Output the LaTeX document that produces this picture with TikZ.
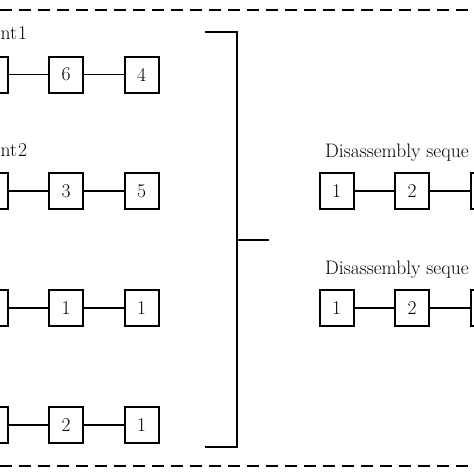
\documentclass[tikz,border=0pt]{standalone}
\usetikzlibrary{positioning}
\def\pagebox{(0,0) rectangle (474,474)}
\tikzset{seqbox/.style={draw, line width=2pt, minimum width=34pt, minimum height=36pt, inner sep=0pt, font=\fontsize{19.5}{22}\selectfont},
	link/.style={line width=1.8pt},
	seqlabel/.style={inner sep=0pt, font=\fontsize{19.5}{22}\selectfont},
	frame/.style={line width=2pt, dash pattern=on 12pt off 7pt},
	brace/.style={line width=2pt}}

\begin{document}
\begin{tikzpicture}[x=1pt, y=-1pt]
		\useasboundingbox \pagebox;
		\clip \pagebox;
		\draw[frame] (0,10) -- (474,10);
		\draw[frame] (0,466) -- (474,466);
		
		\node[seqbox] (a0) at (-9.5,74.5) {};
		\node[seqbox, right=39.5pt of a0] (a1) {6};
		\node[seqbox, right=39.5pt of a1] (a2) {4};
		\node[seqbox] (b0) at (-9.5,191) {};
		\node[seqbox, right=39.5pt of b0] (b1) {3};
		\node[seqbox, right=39.5pt of b1] (b2) {5};
		\node[seqbox] (c0) at (-9.5,308) {};
		\node[seqbox, right=39.5pt of c0] (c1) {1};
		\node[seqbox, right=39.5pt of c1] (c2) {1};
		\node[seqbox] (d0) at (-9.5,425) {};
		\node[seqbox, right=39.5pt of d0] (d1) {2};
		\node[seqbox, right=39.5pt of d1] (d2) {1};
		\node[seqlabel, anchor=base west] (la) at (0.5,39) {nt\kern1pt 1};
		\node[seqlabel, anchor=base west] (lb) at (0.5,156) {nt\kern1pt 2};
		\foreach \r in {a,b,c,d}
			\draw[link] (\r0) -- (\r1) (\r1) -- (\r2);
		
		\coordinate (top) at (205,32);
		\coordinate (bot) at (205,447);
		\coordinate (mid) at (269,239.5);
		\draw[brace] (top) -- (237,32) -- (237,447) -- (bot);
		\draw[brace] (237,239.5) -- (mid);
		
		\node[seqbox] (e1) at (336.5,191) {1};
		\node[seqbox, right=39.5pt of e1] (e2) {2};
		\node[seqbox, right=39.5pt of e2] (e3) {};
		\node[seqbox] (f1) at (336.5,308) {1};
		\node[seqbox, right=39.5pt of f1] (f2) {2};
		\node[seqbox, right=39.5pt of f2] (f3) {};
		\node[seqlabel, anchor=base west] (le) at (325,157) {Disassembly seque};
		\node[seqlabel, anchor=base west] (lf) at (325,274) {Disassembly seque};
		\draw[link] (e1) -- (e2) -- (e3);
		\draw[link] (f1) -- (f2) -- (f3);
\end{tikzpicture}
\end{document}
